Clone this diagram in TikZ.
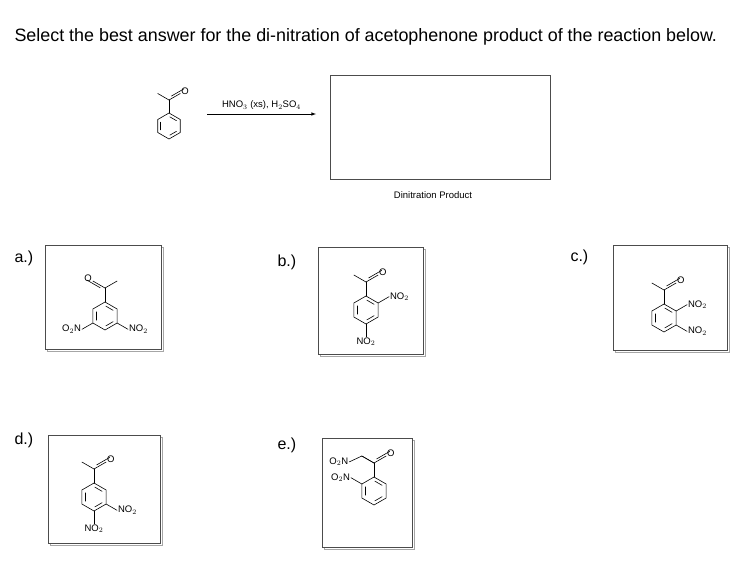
\documentclass[tikz,border=0pt]{standalone}
\usepackage{fontspec}
\setmainfont{Liberation Sans}
\usetikzlibrary{calc}
\tikzset{
  ansbox/.style={draw=black!70,line width=0.6pt,fill=white},
  shadowbox/.style={draw=black!35,line width=0.6pt},
  bond/.style={line width=0.6pt,line cap=round},
  lbl/.style={font=\fontsize{9.5}{10}\selectfont,inner sep=0.8pt},
  opt/.style={font=\fontsize{16}{18}\selectfont,anchor=west},
}
\newcommand\Lb{14}
\newcommand\benz{%
  \draw[bond] (90:\Lb pt)--(150:\Lb pt)--(210:\Lb pt)--(270:\Lb pt)--(330:\Lb pt)--(30:\Lb pt)--cycle;
  \foreach \a/\b in {150/210,270/330,30/90}{
    \draw[bond] ($(\a:0.74*\Lb pt)!0.1!(\b:0.74*\Lb pt)$)--($(\a:0.74*\Lb pt)!0.9!(\b:0.74*\Lb pt)$);}
}
\newcommand\acetyl[1]{%
  \coordinate (cc) at (90:2*\Lb pt);
  \draw[bond] (90:\Lb pt)--(cc);
  \node[lbl,anchor={#1+180}] (oo) at ($(cc)+(#1:\Lb pt)$) {O};
  \draw[bond] (cc)--(oo);
  \draw[bond] ($(cc)!0.22!(oo)+(#1+90:2.2pt)$)--($(cc)!1!(oo)+(#1+90:2.2pt)$);
  \draw[bond] (cc)--($(cc)+(180-#1:\Lb pt)$);
}
\newcommand\nitro[2]{%
  \draw[bond] (#1:\Lb pt)--(#1:1.9*\Lb pt);
}
\begin{document}
\begin{tikzpicture}[x=1pt,y=1pt]
\useasboundingbox (0,0) rectangle (746,-587);
\node[anchor=west,font=\fontsize{17.9}{20}\selectfont] (title) at (11,-37) {Select the best answer for the di-nitration of acetophenone product of the reaction below.};

\begin{scope}[shift={(169,-126)}]
\renewcommand\Lb{13}
\benz \acetyl{30}
\end{scope}
\coordinate (arS) at (207,-114); \coordinate (arE) at (316,-114);
\draw[line width=0.6pt,-latex] (arS)--(arE) node[midway,above=3pt,lbl] (reag) {HNO$_3$ (xs), H$_2$SO$_4$};
\node[draw=black!70,line width=0.6pt,minimum width=220,minimum height=104,inner sep=0] (prod) at (440,-127) {};
\node[lbl] (plbl) at (433,-195) {Dinitration Product};

\node[opt] (la) at (11,-258) {a.)};
\node[opt] (lb) at (274,-262) {b.)};
\node[opt] (lc) at (567,-257) {c.)};
\node[opt] (ld) at (11,-440) {d.)};
\node[opt] (le) at (274,-445) {e.)};

\foreach \x/\y/\w/\h in {45/245/116/104, 318/247/105/107, 613/245/114/105, 48/435/112/108, 322/438/90/109}{
  \draw[shadowbox] (\x+2.5,-\y-2.5) rectangle (\x+\w+2.5,-\y-\h-2.5);
  \draw[ansbox] (\x,-\y) rectangle (\x+\w,-\y-\h);
}

\begin{scope}[shift={(105,-316)}]
\benz \acetyl{150}
\nitro{210}{} \node[lbl,anchor=east] (a1) at (210:1.9*\Lb pt) {O$_2$N};
\nitro{330}{} \node[lbl,anchor=west] (a2) at (330:1.9*\Lb pt) {NO$_2$};
\end{scope}
\begin{scope}[shift={(366,-310)}]
\benz \acetyl{30}
\nitro{30}{} \node[lbl,anchor=west] (b1) at (30:1.9*\Lb pt) {NO$_2$};
\nitro{270}{} \node[lbl,anchor=north] (b2) at (270:1.9*\Lb pt) {NO$_2$};
\end{scope}
\begin{scope}[shift={(664,-318)}]
\benz \acetyl{30}
\nitro{30}{} \node[lbl,anchor=west] (c1) at (30:1.9*\Lb pt) {NO$_2$};
\nitro{330}{} \node[lbl,anchor=west] (c2) at (330:1.9*\Lb pt) {NO$_2$};
\end{scope}
\begin{scope}[shift={(94,-497)}]
\benz \acetyl{30}
\nitro{330}{} \node[lbl,anchor=west] (d1) at (330:1.9*\Lb pt) {NO$_2$};
\nitro{270}{} \node[lbl,anchor=north] (d2) at (270:1.9*\Lb pt) {NO$_2$};
\end{scope}
\begin{scope}[shift={(374,-491)}]
\benz \acetyl{30}
\nitro{150}{} \node[lbl,anchor=east] (e1) at (150:1.9*\Lb pt) {O$_2$N};
\coordinate (ch) at ($(cc)+(150:\Lb pt)$);
\draw[bond] (cc)--(ch);
\node[lbl,anchor=east] (e2) at ($(ch)+(205:\Lb pt)$) {O$_2$N};
\draw[bond] (ch)--(e2.east);
\end{scope}
\end{tikzpicture}
\end{document}
